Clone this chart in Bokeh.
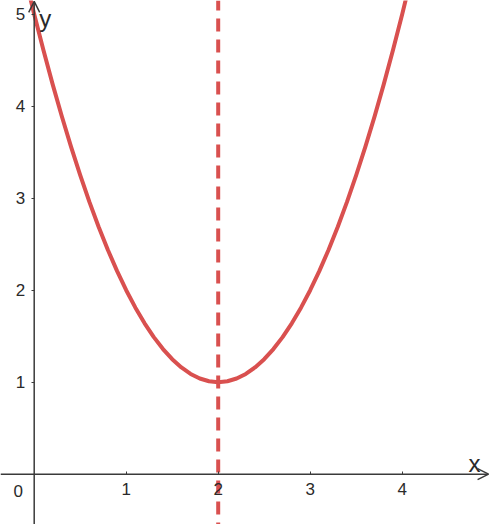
from bokeh.plotting import figure
from bokeh.models import Range1d, Arrow, OpenHead, FixedTicker
from bokeh.core.properties import value
from bokeh.embed import file_html
from bokeh.resources import INLINE

# parabola points (vertex at (2, 1))
curve_x = [-0.1, 0.0, 0.1, 0.2, 0.3, 0.4, 0.5, 0.6, 0.7, 0.8, 0.9, 1.0, 1.1, 1.2, 1.3,
           1.4, 1.5, 1.6, 1.7, 1.8, 1.9, 2.0, 2.1, 2.2, 2.3, 2.4, 2.5, 2.6, 2.7, 2.8,
           2.9, 3.0, 3.1, 3.2, 3.3, 3.4, 3.5, 3.6, 3.7, 3.8, 3.9, 4.0, 4.1]
curve_y = [5.41, 5.0, 4.61, 4.24, 3.89, 3.56, 3.25, 2.96, 2.69, 2.44, 2.21, 2.0, 1.81, 1.64, 1.49,
           1.36, 1.25, 1.16, 1.09, 1.04, 1.01, 1.0, 1.01, 1.04, 1.09, 1.16, 1.25, 1.36, 1.49, 1.64,
           1.81, 2.0, 2.21, 2.44, 2.69, 2.96, 3.25, 3.56, 3.89, 4.24, 4.61, 5.0, 5.41]
symmetry_x = 2
x_ticks = [1, 2, 3, 4]
y_ticks = [1, 2, 3, 4, 5]

X_START, X_END = -0.3663, 4.9489
Y_START, Y_END = -0.5467, 5.1489

RED = "#d9504f"
AXIS = "#3a3a3a"
FONT = "Liberation Sans"

p = figure(width=489, height=524, output_backend="svg", toolbar_location=None,
           x_range=Range1d(X_START, X_END), y_range=Range1d(Y_START, Y_END),
           min_border=0, background_fill_color="white", border_fill_color="white")
p.outline_line_color = None
p.grid.visible = False

for ax in (p.xaxis[0], p.yaxis[0]):
    ax.fixed_location = 0
    ax.axis_line_alpha = 0
    ax.minor_tick_line_color = None
    ax.major_tick_line_color = AXIS
    ax.major_tick_line_width = 1
    ax.major_label_text_font = FONT
    ax.major_label_text_font_size = "17px"
    ax.major_label_text_color = "#2a2a2a"

p.xaxis.ticker = FixedTicker(ticks=x_ticks)
p.yaxis.ticker = FixedTicker(ticks=y_ticks)
p.xaxis.major_tick_in = 3
p.xaxis.major_tick_out = 0
p.xaxis.major_label_standoff = 9
p.yaxis.major_tick_in = 0
p.yaxis.major_tick_out = 3
p.yaxis.major_label_standoff = 6

# axes with open arrow heads
p.add_layout(Arrow(end=OpenHead(size=11, line_width=1.5, line_color=AXIS),
                   x_start=X_START, y_start=0, x_end=X_END - 0.01, y_end=0,
                   line_color=AXIS, line_width=1.5))
p.add_layout(Arrow(end=OpenHead(size=11, line_width=1.5, line_color=AXIS),
                   x_start=0, y_start=Y_START, x_end=0, y_end=Y_END - 0.01,
                   line_color=AXIS, line_width=1.5))

# axis of symmetry (dashed)
p.segment(x0=[symmetry_x], y0=[Y_END], x1=[symmetry_x], y1=[Y_START],
          line_color=RED, line_width=4, line_dash="13 8", line_dash_offset=3)

# parabola
p.line(curve_x, curve_y, line_color=RED, line_width=4, line_join="round")

# origin label and axis names
p.text(x=[0], y=[0], text=["0"], text_font=value(FONT), text_font_size="17px",
       text_color="#2a2a2a", text_align="center", text_baseline="middle",
       x_offset=-16, y_offset=17)
p.text(x=[4.786], y=[0], text=["x"], text_font=value(FONT), text_font_size="24px",
       text_color="#2a2a2a", text_align="center", text_baseline="alphabetic",
       x_offset=0, y_offset=-11)
p.text(x=[0], y=[4.953], text=["y"], text_font=value(FONT), text_font_size="24px",
       text_color="#2a2a2a", text_align="center", text_baseline="middle",
       x_offset=11, y_offset=0)

open("out.html", "w").write(file_html(p, INLINE))
